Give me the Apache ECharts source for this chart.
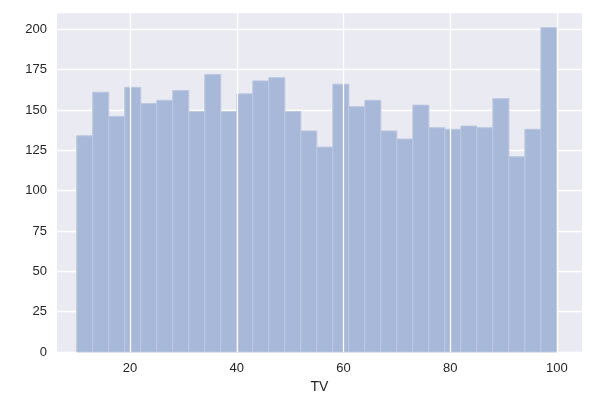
<!DOCTYPE html><html><head><meta charset="utf-8"><script src="https://cdn.jsdelivr.net/npm/echarts@6/dist/echarts.min.js"></script></head>
<body style="margin:0;background:#fff"><div id="c" style="width:590px;height:415px"></div><script>
const binStart = 10, binWidth = 3;
const counts = [134,161,146,164,154,156,162,149,172,149,160,168,170,149,137,127,166,152,156,137,132,153,139,138,140,139,157,121,138,201];
const xTicks = [20,40,60,80,100];
const yTicks = [0,25,50,75,100,125,150,175,200];
const data = counts.map((c,i)=>[binStart+i*binWidth, binStart+(i+1)*binWidth, c]);
const F = 'Liberation Sans';
const ch = echarts.init(document.getElementById('c'));
ch.setOption({
  animation:false,
  grid:{left:57,right:8,top:12,bottom:63,backgroundColor:'#EAEAF2',show:true,borderWidth:0},
  xAxis:{type:'value',min:6.3,max:104.7,name:'TV',nameLocation:'middle',nameGap:26,
    nameTextStyle:{fontSize:14,color:'#262626',fontFamily:F},
    axisLine:{show:false},axisTick:{show:false},
    axisLabel:{fontSize:13,color:'#262626',fontFamily:F,margin:10,customValues:xTicks},
    splitLine:{show:false}},
  yAxis:{type:'value',min:0,max:210.7,interval:25,
    axisLine:{show:false},axisTick:{show:false},
    axisLabel:{fontSize:13,color:'#262626',fontFamily:F,margin:10,
      formatter:v=>yTicks.includes(v)?String(v):''},
    splitLine:{lineStyle:{color:'#fff',width:1.3}}},
  series:[
   {type:'line',data:[],z:1,markLine:{silent:true,symbol:'none',label:{show:false},
     lineStyle:{color:'#fff',width:1.3,type:'solid'},data:xTicks.map(v=>({xAxis:v}))}},
   {type:'custom',data:data,z:2,
    renderItem:(p,api)=>{
      const a=api.coord([api.value(0),api.value(2)]), b=api.coord([api.value(1),0]);
      return {type:'rect',shape:{x:a[0],y:a[1],width:b[0]-a[0],height:b[1]-a[1]},
        style:{fill:'#A8B8D8',stroke:'#BCC8E0',lineWidth:1}};
    }}]
});
</script></body></html>
